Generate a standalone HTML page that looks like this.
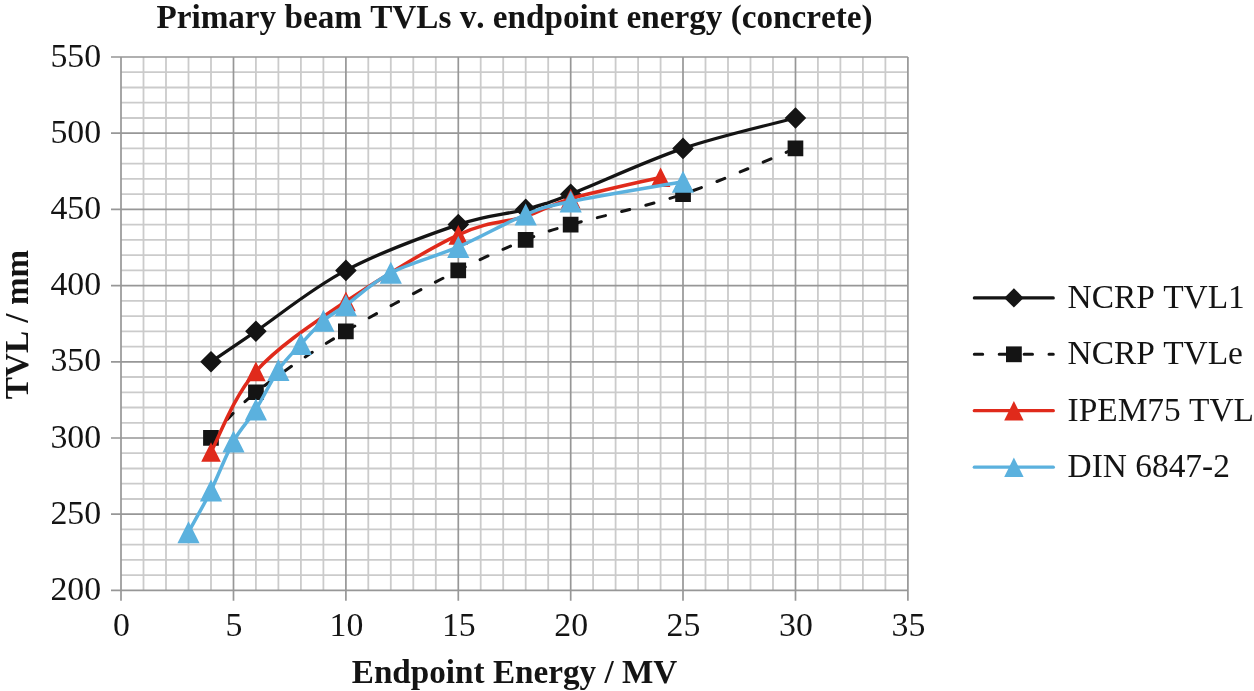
<!DOCTYPE html>
<html lang="en"><head><meta charset="utf-8"><title>Primary beam TVLs v. endpoint energy (concrete)</title>
<style>html,body{margin:0;padding:0;background:#fff}body{width:1254px;height:691px;overflow:hidden}svg{display:block}</style></head>
<body>
<svg width="1254" height="691" viewBox="0 0 1254 691">
<rect width="1254" height="691" fill="#fff"/>
<path d="M143.5 57V590.4M166 57V590.4M188.5 57V590.4M211 57V590.4M255.9 57V590.4M278.4 57V590.4M300.9 57V590.4M323.4 57V590.4M368.3 57V590.4M390.8 57V590.4M413.3 57V590.4M435.8 57V590.4M480.7 57V590.4M503.2 57V590.4M525.7 57V590.4M548.2 57V590.4M593.1 57V590.4M615.6 57V590.4M638.1 57V590.4M660.6 57V590.4M705.5 57V590.4M728 57V590.4M750.5 57V590.4M773 57V590.4M817.9 57V590.4M840.4 57V590.4M862.9 57V590.4M885.4 57V590.4M121 575.2H907.9M121 559.9H907.9M121 544.7H907.9M121 529.4H907.9M121 499H907.9M121 483.7H907.9M121 468.5H907.9M121 453.2H907.9M121 422.8H907.9M121 407.5H907.9M121 392.3H907.9M121 377H907.9M121 346.6H907.9M121 331.3H907.9M121 316.1H907.9M121 300.8H907.9M121 270.4H907.9M121 255.1H907.9M121 239.9H907.9M121 224.6H907.9M121 194.2H907.9M121 178.9H907.9M121 163.7H907.9M121 148.4H907.9M121 118H907.9M121 102.7H907.9M121 87.5H907.9M121 72.2H907.9" stroke="#cbcbcb" stroke-width="1.8" fill="none"/>
<path d="M121 57V600.8M233.5 57V600.8M345.9 57V600.8M458.3 57V600.8M570.7 57V600.8M683 57V600.8M795.5 57V600.8M907.9 57V600.8M111 590.4H907.9M111 514.2H907.9M111 438H907.9M111 361.8H907.9M111 285.6H907.9M111 209.4H907.9M111 133.2H907.9M111 57H907.9" stroke="#979797" stroke-width="1.7" fill="none"/>
<path d="M211 361.8C218.5 356.7 233.4 346.6 255.9 331.3C278.4 316.1 312.1 288.1 345.9 270.4C379.6 252.6 428.3 234.8 458.3 224.6C488.2 214.5 507 214.5 525.7 209.4C544.4 204.3 544.4 204.3 570.7 194.2C596.9 184 645.6 161.1 683 148.4C720.5 135.7 776.7 123 795.5 118" stroke="#141414" stroke-width="3.3" fill="none" stroke-linecap="round"/>
<path d="M211 351L221.8 361.8L211 372.6L200.2 361.8ZM255.9 320.5L266.7 331.3L255.9 342.1L245.1 331.3ZM345.9 259.6L356.7 270.4L345.9 281.2L335.1 270.4ZM458.3 213.8L469.1 224.6L458.3 235.4L447.5 224.6ZM525.7 198.6L536.5 209.4L525.7 220.2L514.9 209.4ZM570.7 183.4L581.5 194.2L570.7 205L559.9 194.2ZM683 137.6L693.8 148.4L683 159.2L672.2 148.4ZM795.5 107.2L806.2 118L795.5 128.8L784.7 118Z" fill="#141414"/>
<path d="M211 438C218.5 430.4 233.4 410.1 255.9 392.3C278.4 374.5 312.1 351.6 345.9 331.3C379.6 311 428.3 285.6 458.3 270.4C488.2 255.1 507 247.5 525.7 239.9C544.4 232.3 544.4 232.3 570.7 224.6C596.9 217 645.6 206.9 683 194.2C720.5 181.5 776.7 156.1 795.5 148.4" stroke="#141414" stroke-width="3.0" fill="none" stroke-linecap="round" stroke-dasharray="8.4 16.6"/>
<path d="M203.1 430.1h15.7v15.7h-15.7ZM248.1 384.4h15.7v15.7h-15.7ZM338 323.5h15.7v15.7h-15.7ZM450.4 262.5h15.7v15.7h-15.7ZM517.8 232h15.7v15.7h-15.7ZM562.8 216.8h15.7v15.7h-15.7ZM675.2 186.3h15.7v15.7h-15.7ZM787.6 140.6h15.7v15.7h-15.7Z" fill="#141414"/>
<path d="M211 452C218.5 438.6 233.4 396.5 255.9 371.4C278.4 346.3 312.1 324.2 345.9 301.4C379.6 278.7 428.3 249 458.3 234.9C488.2 220.7 507 222.5 525.7 216.4C544.4 210.4 548.2 205.1 570.7 198.6C593.1 192.1 645.6 180.8 660.6 177.2" stroke="#e02a1b" stroke-width="3.5" fill="none" stroke-linecap="round"/>
<path d="M211 442.2L220.8 461.8L201.2 461.8ZM255.9 361.6L265.7 381.2L246.1 381.2ZM345.9 291.6L355.7 311.2L336.1 311.2ZM458.3 225.1L468.1 244.7L448.5 244.7ZM570.7 188.8L580.5 208.4L560.9 208.4ZM660.6 167.4L670.4 187L650.8 187Z" fill="#e02a1b"/>
<path d="M188.5 532.2C192.2 525.2 203.5 505.6 211 490.4C218.5 475.3 226 454.8 233.5 441.4C240.9 427.9 248.4 421.4 255.9 409.5C263.4 397.6 270.9 380.8 278.4 369.9C285.9 359 293.4 352.3 300.9 344.1C308.4 335.9 315.9 327.3 323.4 320.8C330.9 314.3 334.6 313.3 345.9 305.3C357.1 297.3 372.1 282.5 390.8 272.8C409.5 263.1 435.8 256.6 458.3 246.9C480.7 237.2 507 222.1 525.7 214.6C544.4 207 544.4 207.1 570.7 201.6C596.9 196.2 664.3 185.1 683 181.8" stroke="#5bb1de" stroke-width="3.5" fill="none" stroke-linecap="round"/>
<path d="M188.5 521.2L199.6 543.2L177.4 543.2ZM211 479.4L222.1 501.4L199.9 501.4ZM233.5 430.4L244.6 452.4L222.4 452.4ZM255.9 398.5L267 420.5L244.8 420.5ZM278.4 358.9L289.5 380.9L267.3 380.9ZM300.9 333.1L312 355.1L289.8 355.1ZM323.4 309.8L334.5 331.8L312.3 331.8ZM345.9 294.3L357 316.3L334.8 316.3ZM390.8 261.8L401.9 283.8L379.7 283.8ZM458.3 235.9L469.4 257.9L447.2 257.9ZM525.7 203.6L536.8 225.6L514.6 225.6ZM570.7 190.6L581.8 212.6L559.6 212.6ZM683 170.8L694.1 192.8L671.9 192.8Z" fill="#5bb1de"/>
<path d="M974.3 297.9H1053.3" stroke="#141414" stroke-width="3.1" stroke-linecap="round"/>
<path d="M1013.9 288.2L1023.5 297.9L1013.9 307.5L1004.2 297.9Z" fill="#141414"/>
<path d="M974.3 354.3H1053.3" stroke="#141414" stroke-width="3.0" stroke-linecap="round" stroke-dasharray="8.4 16.5"/>
<path d="M1006 346.4h15.8v15.8h-15.8Z" fill="#141414"/>
<path d="M974.3 410.7H1053.3" stroke="#e02a1b" stroke-width="3.3" stroke-linecap="round"/>
<path d="M1013.9 401L1023.6 420.4L1004.2 420.4Z" fill="#e02a1b"/>
<path d="M974.3 467.2H1053.3" stroke="#5bb1de" stroke-width="3.3" stroke-linecap="round"/>
<path d="M1013.9 457.5L1023.6 476.9L1004.2 476.9Z" fill="#5bb1de"/>
<g style="font-kerning:none" font-family="'Liberation Serif', 'Times New Roman', serif" fill="#141414">
<text id="title" x="514.5" y="27.6" font-size="33.2" font-weight="bold" text-anchor="middle">Primary beam TVLs v. endpoint energy (concrete)</text>
<text id="xlab" x="514.5" y="682.5" font-size="33.2" font-weight="bold" text-anchor="middle">Endpoint Energy / MV</text>
<text id="ylab" transform="translate(27.9 324.5) rotate(-90)" font-size="33.2" font-weight="bold" text-anchor="middle">TVL / mm</text>
<g font-size="33.8" text-anchor="end">
<text x="101.1" y="600">200</text>
<text x="101.1" y="523.8">250</text>
<text x="101.1" y="447.6">300</text>
<text x="101.1" y="371.4">350</text>
<text x="101.1" y="295.2">400</text>
<text x="101.1" y="219">450</text>
<text x="101.1" y="142.8">500</text>
<text x="101.1" y="66.6">550</text>
</g><g font-size="33.8" text-anchor="middle">
<text x="121.5" y="635.9">0</text>
<text x="234" y="635.9">5</text>
<text x="346.4" y="635.9">10</text>
<text x="458.8" y="635.9">15</text>
<text x="571.2" y="635.9">20</text>
<text x="683.5" y="635.9">25</text>
<text x="796" y="635.9">30</text>
<text x="908.4" y="635.9">35</text>
</g><g font-size="33.4">
<text x="1067.6" y="308">NCRP TVL1</text>
<text x="1067.6" y="364.4">NCRP TVLe</text>
<text x="1067.6" y="420.8">IPEM75 TVL</text>
<text x="1067.6" y="477.3">DIN 6847-2</text>
</g></g></svg>
</body></html>
